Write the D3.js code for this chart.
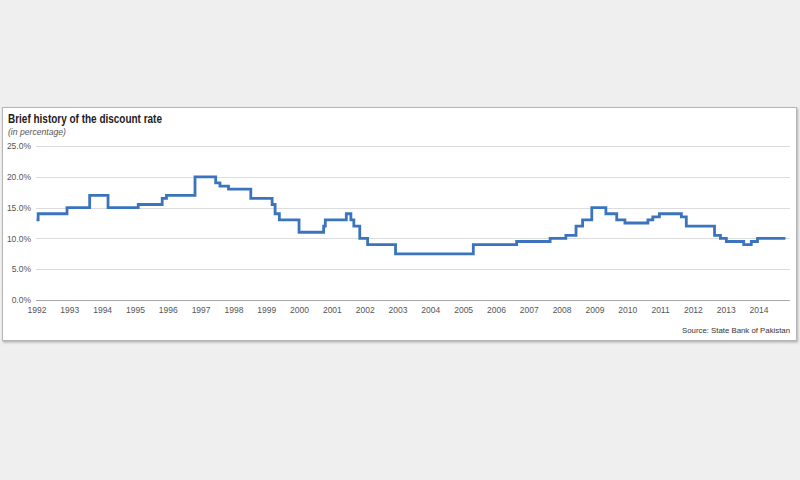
<!DOCTYPE html>
<html>
<head>
<meta charset="utf-8">
<script src="https://cdn.jsdelivr.net/npm/d3@7"></script>
<style>
  html, body { margin: 0; padding: 0; background: #efefef; }
  svg { display: block; }
</style>
</head>
<body>
<svg id="chart" width="800" height="480"></svg>
<script>
// Step changes: [decimal year, rate %]
const changeYears = [1992.0, 1992.05, 1992.93, 1993.62, 1994.18, 1995.1, 1995.83, 1995.96,
  1996.83, 1997.46, 1997.59, 1997.85, 1998.53, 1999.18, 1999.27, 1999.40,
  2000.0, 2000.75, 2000.8, 2001.44, 2001.58, 2001.67, 2001.85, 2002.09, 2002.94,
  2005.31, 2006.63, 2007.65, 2008.13, 2008.44, 2008.64, 2008.92,
  2009.35, 2009.68, 2009.93, 2010.63, 2010.78, 2010.98, 2011.65, 2011.80,
  2012.66, 2012.84, 2013.02, 2013.55, 2013.78, 2013.97, 2014.82];
const rates = [13, 14, 15, 17, 15, 15.5, 16.5, 17,
  20, 19, 18.5, 18, 16.5, 15.5, 14, 13,
  11, 12, 13, 14, 13, 12, 10, 9, 7.5,
  9, 9.5, 10, 10.5, 12, 13, 15,
  14, 13, 12.5, 13, 13.5, 14, 13.5, 12,
  10.5, 10, 9.5, 9, 9.5, 10, 10];
const yearLabels = [1992, 1993, 1994, 1995, 1996, 1997, 1998, 1999, 2000, 2001, 2002, 2003,
  2004, 2005, 2006, 2007, 2008, 2009, 2010, 2011, 2012, 2013, 2014];
const yTicks = [0, 5, 10, 15, 20, 25];
const titleText = "Brief history of the discount rate";
const subtitleText = "(in percentage)";
const sourceText = "Source: State Bank of Pakistan";

const data = changeYears.map((t, i) => ({ t, v: rates[i] }));
const svg = d3.select("#chart");
const font = "'Liberation Sans Narrow', 'Liberation Sans', Arial, sans-serif";

// shadow + panel
const defs = svg.append("defs");
const f = defs.append("filter").attr("id", "sh").attr("x", "-2%").attr("y", "-5%").attr("width", "104%").attr("height", "112%");
f.append("feDropShadow").attr("dx", 1).attr("dy", 1.5).attr("stdDeviation", 1).attr("flood-color", "#888").attr("flood-opacity", 0.6);
svg.append("rect").attr("x", 2.5).attr("y", 107.5).attr("width", 794).attr("height", 233)
  .attr("fill", "#fff").attr("stroke", "#b5b5b5").attr("stroke-width", 1).attr("filter", "url(#sh)");

const x = d3.scaleLinear().domain([1992, 2014]).range([36.5, 758.5]);
const y = d3.scaleLinear().domain([0, 25]).range([300, 146]);

// gridlines
svg.append("g").selectAll("line").data(yTicks.filter(d => d > 0)).join("line")
  .attr("x1", 36).attr("x2", 790)
  .attr("y1", d => Math.round(y(d)) + 0.5).attr("y2", d => Math.round(y(d)) + 0.5)
  .attr("stroke", "#dcdcdc").attr("stroke-width", 1);

// y axis labels
const yAxis = svg.append("g").attr("transform", "translate(31,0)")
  .call(d3.axisLeft(y).tickValues(yTicks).tickSize(0).tickPadding(0).tickFormat(d => d3.format(".1f")(d) + "%"));
yAxis.select(".domain").remove();
yAxis.selectAll("text").attr("font-family", font).attr("font-size", 8.5).attr("fill", "#555");

// x axis
const xAxis = svg.append("g").attr("transform", `translate(0,${Math.round(y(0)) + 0.5})`)
  .call(d3.axisBottom(x).tickValues(yearLabels).tickSize(0).tickPadding(6).tickFormat(d3.format("d")));
xAxis.select(".domain").attr("d", "M36,0H790").attr("stroke", "#a8a8a8");
xAxis.selectAll("text").attr("font-family", font).attr("font-size", 8.5).attr("fill", "#555");

// step line
const line = d3.line().x(d => x(d.t)).y(d => y(d.v)).curve(d3.curveStepAfter);
svg.append("path").datum(data).attr("d", line)
  .attr("fill", "none").attr("stroke", "#3b73bd").attr("stroke-width", 2.8)
  .attr("stroke-linejoin", "miter");

// texts
svg.append("text").attr("x", 8).attr("y", 123).text(titleText)
  .attr("font-family", font).attr("font-weight", "bold").attr("font-size", 12.5).attr("fill", "#222")
  .attr("textLength", 154).attr("lengthAdjust", "spacingAndGlyphs");
svg.append("text").attr("x", 8).attr("y", 135).text(subtitleText)
  .attr("font-family", font).attr("font-style", "italic").attr("font-size", 9).attr("fill", "#555")
  .attr("textLength", 58).attr("lengthAdjust", "spacingAndGlyphs");
svg.append("text").attr("x", 790).attr("y", 333).attr("text-anchor", "end").text(sourceText)
  .attr("font-family", font).attr("font-size", 7.8).attr("fill", "#333");
</script>
</body>
</html>
